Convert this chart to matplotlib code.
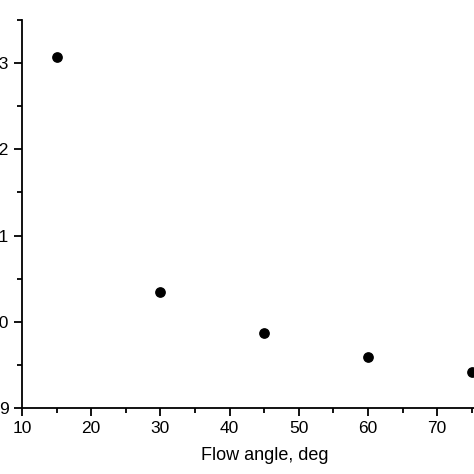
import matplotlib
matplotlib.use("Agg")
import matplotlib.pyplot as plt
from matplotlib.ticker import MultipleLocator

angles = [15, 30, 45, 60, 75]
values = [13.07, 10.34, 9.87, 9.59, 9.42]

plt.rcParams['font.family'] = ['Liberation Sans', 'DejaVu Sans']
fig = plt.figure(figsize=(4.74, 4.74), dpi=100)
ax = fig.add_axes([22/474, 66/474, 467/474, 388/474])
ax.scatter(angles, values, s=45, color='black', zorder=3, clip_on=False)
ax.set_xlim(10, 77.5)
ax.set_ylim(9, 13.5)
ax.spines['top'].set_visible(False)
ax.spines['right'].set_visible(False)
for s in ['left', 'bottom']:
    ax.spines[s].set_linewidth(1.3)
ax.xaxis.set_major_locator(MultipleLocator(10))
ax.xaxis.set_minor_locator(MultipleLocator(5))
ax.yaxis.set_major_locator(MultipleLocator(1))
ax.yaxis.set_minor_locator(MultipleLocator(0.5))
ax.tick_params(which='major', direction='out', length=6, width=1.3, labelsize=12.5)
ax.tick_params(which='minor', direction='out', length=3.5, width=1.3)
ax.set_xlabel('Flow angle, deg', fontsize=13, labelpad=6)
ax.xaxis.set_label_coords(0.52, -0.1)
fig.savefig('out.png', dpi=100)
